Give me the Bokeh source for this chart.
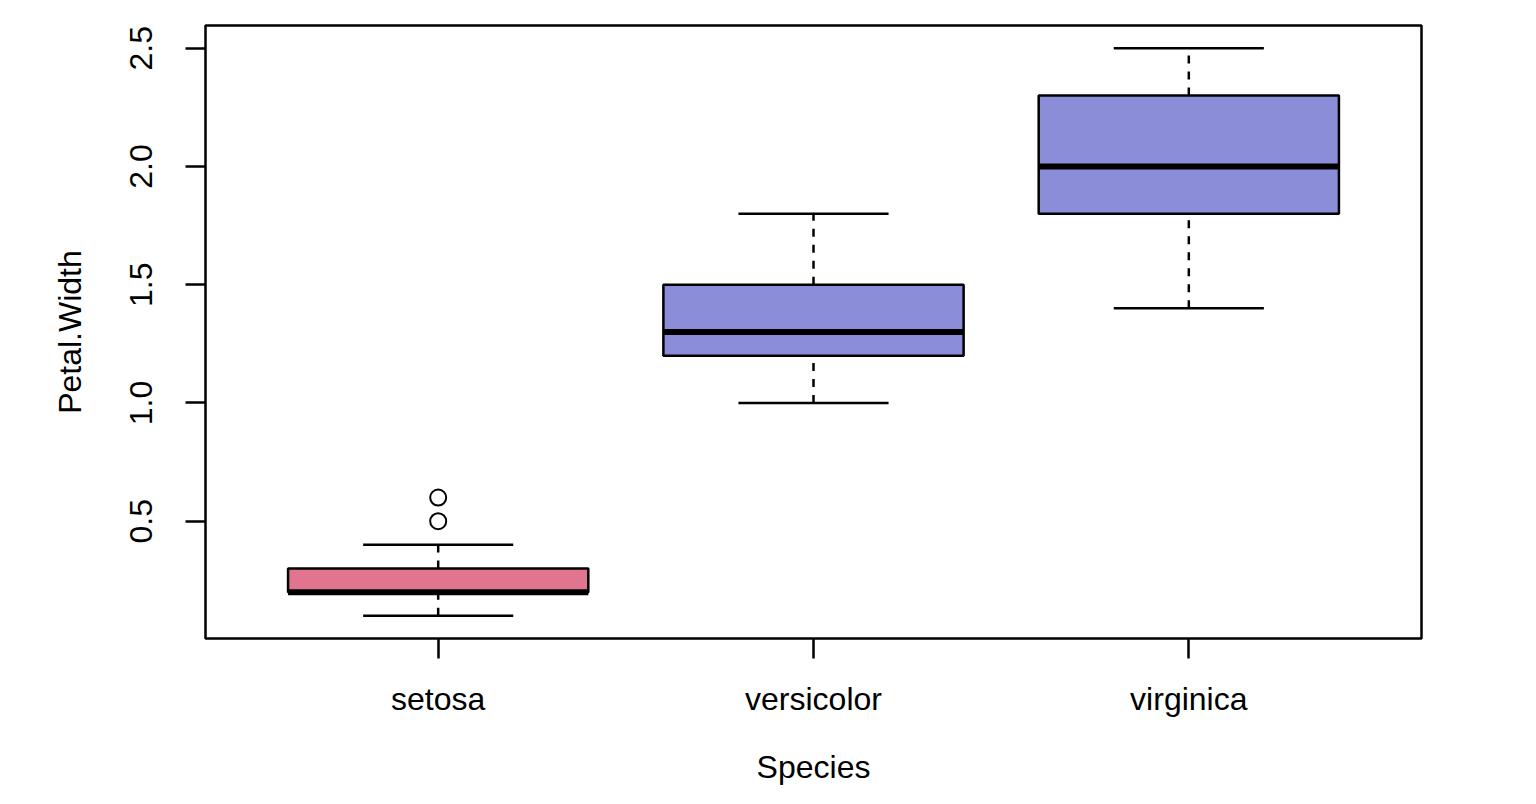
from bokeh.plotting import figure
from bokeh.models import Range1d, FixedTicker, ColumnDataSource
from bokeh.embed import file_html
from bokeh.resources import INLINE

# ---- data ----
species = ["setosa", "versicolor", "virginica"]
positions = [1, 2, 3]
lower_whisker = [0.1, 1.0, 1.4]
q1 = [0.2, 1.2, 1.8]
median = [0.2, 1.3, 2.0]
q3 = [0.3, 1.5, 2.3]
upper_whisker = [0.4, 1.8, 2.5]
box_colors = ["#E1758F", "#8C8DD9", "#8C8DD9"]
outlier_pos = [1, 1]
outlier_values = [0.5, 0.6]
y_ticks = [0.5, 1.0, 1.5, 2.0, 2.5]
y_tick_labels = ["0.5", "1.0", "1.5", "2.0", "2.5"]
x_title = "Species"
y_title = "Petal.Width"

FONT = "Liberation Sans"
FS = "32px"

box_w = 0.8
cap_w = 0.4

src = ColumnDataSource(dict(
    x=positions, lw=lower_whisker, q1=q1, med=median, q3=q3, uw=upper_whisker,
    color=box_colors,
    box_l=[p - box_w / 2 for p in positions], box_r=[p + box_w / 2 for p in positions],
    cap_l=[p - cap_w / 2 for p in positions], cap_r=[p + cap_w / 2 for p in positions],
))

p = figure(width=1520, height=788, output_backend="svg", toolbar_location=None,
           x_range=Range1d(0.38, 3.62), y_range=Range1d(0.004, 2.596),
           min_border_left=205, min_border_top=25, min_border_right=99, min_border_bottom=150)
p.background_fill_color = "white"
p.border_fill_color = "white"
p.xgrid.visible = False
p.ygrid.visible = False
p.outline_line_color = "black"
p.outline_line_width = 2.5

# whiskers (dashed)
p.segment(x0="x", y0="q3", x1="x", y1="uw", source=src, line_color="black",
          line_width=2.5, line_dash="8 8")
p.segment(x0="x", y0="lw", x1="x", y1="q1", source=src, line_color="black",
          line_width=2.5, line_dash="8 8")
# caps
p.segment(x0="cap_l", y0="uw", x1="cap_r", y1="uw", source=src, line_color="black", line_width=2.5)
p.segment(x0="cap_l", y0="lw", x1="cap_r", y1="lw", source=src, line_color="black", line_width=2.5)
# boxes
p.quad(left="box_l", right="box_r", bottom="q1", top="q3", source=src,
       fill_color="color", line_color="black", line_width=2.5)
# medians
p.segment(x0="box_l", y0="med", x1="box_r", y1="med", source=src, line_color="black",
          line_width=6, line_cap="butt")
# outliers
p.scatter(x=outlier_pos, y=outlier_values, marker="circle", size=16,
          fill_color=None, line_color="black", line_width=2)

# axes
xa = p.xaxis[0]
xa.ticker = FixedTicker(ticks=positions)
xa.major_label_overrides = {pos: name for pos, name in zip(positions, species)}
ya = p.yaxis[0]
ya.ticker = FixedTicker(ticks=y_ticks)
ya.major_label_overrides = {t: s for t, s in zip(y_ticks, y_tick_labels)}
ya.major_label_orientation = "vertical"

for ax in (xa, ya):
    ax.axis_line_color = None
    ax.major_tick_line_color = "black"
    ax.major_tick_line_width = 2.5
    ax.major_tick_out = 20
    ax.major_tick_in = 0
    ax.minor_tick_line_color = None
    ax.major_label_text_font = FONT
    ax.major_label_text_font_size = FS
    ax.major_label_text_color = "black"
    ax.axis_label_text_font = FONT
    ax.axis_label_text_font_size = FS
    ax.axis_label_text_font_style = "normal"
    ax.axis_label_text_color = "black"

xa.major_label_standoff = 22
ya.major_label_standoff = 33
xa.axis_label = x_title
ya.axis_label = y_title
xa.axis_label_standoff = 29
ya.axis_label_standoff = 40

open("out.html", "w").write(file_html(p, INLINE))
